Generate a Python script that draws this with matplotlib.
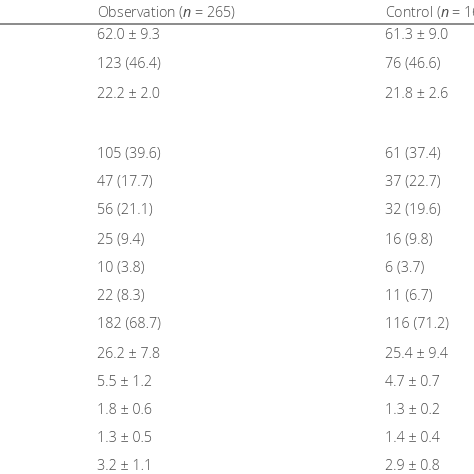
import matplotlib
matplotlib.use("Agg")
import matplotlib.pyplot as plt

headers = ["Observation ($n$ = 265)", "Control ($n$ = 163)"]
obs = ["62.0 ± 9.3", "123 (46.4)", "22.2 ± 2.0", "", "105 (39.6)", "47 (17.7)", "56 (21.1)",
       "25 (9.4)", "10 (3.8)", "22 (8.3)", "182 (68.7)", "26.2 ± 7.8", "5.5 ± 1.2",
       "1.8 ± 0.6", "1.3 ± 0.5", "3.2 ± 1.1"]
ctrl = ["61.3 ± 9.0", "76 (46.6)", "21.8 ± 2.6", "", "61 (37.4)", "37 (22.7)", "32 (19.6)",
        "16 (9.8)", "6 (3.7)", "11 (6.7)", "116 (71.2)", "25.4 ± 9.4", "4.7 ± 0.7",
        "1.3 ± 0.2", "1.4 ± 0.4", "2.9 ± 0.8"]
row_y = [35, 64, 94, None, 155, 183, 211, 240, 268, 297, 325, 354, 382, 410, 438, 466]

plt.rcParams['font.family'] = ['Open Sans', 'DejaVu Sans']
plt.rcParams['mathtext.fontset'] = 'custom'
plt.rcParams['mathtext.it'] = 'Open Sans:italic'
plt.rcParams['mathtext.rm'] = 'Open Sans'

fig = plt.figure(figsize=(4.74, 4.74), dpi=100)
ax = fig.add_axes([0, 0, 1, 1])
ax.set_xlim(0, 474)
ax.set_ylim(474, 0)
ax.axis("off")
col = "#4a4a4a"
fs = 10.3
ax.text(97, 12, headers[0], color=col, fontsize=fs, va="center", ha="left", fontweight="light")
ax.text(385, 12, headers[1], color=col, fontsize=fs, va="center", ha="left", fontweight="light")
ax.plot([0, 474], [23.5, 23.5], color="#777777", lw=1.2)
for o, c, y in zip(obs, ctrl, row_y):
    if y is None:
        continue
    ax.text(97, y, o, color=col, fontsize=fs, va="center", ha="left", fontweight="light")
    ax.text(385, y, c, color=col, fontsize=fs, va="center", ha="left", fontweight="light")
fig.savefig("out.png", dpi=100)
